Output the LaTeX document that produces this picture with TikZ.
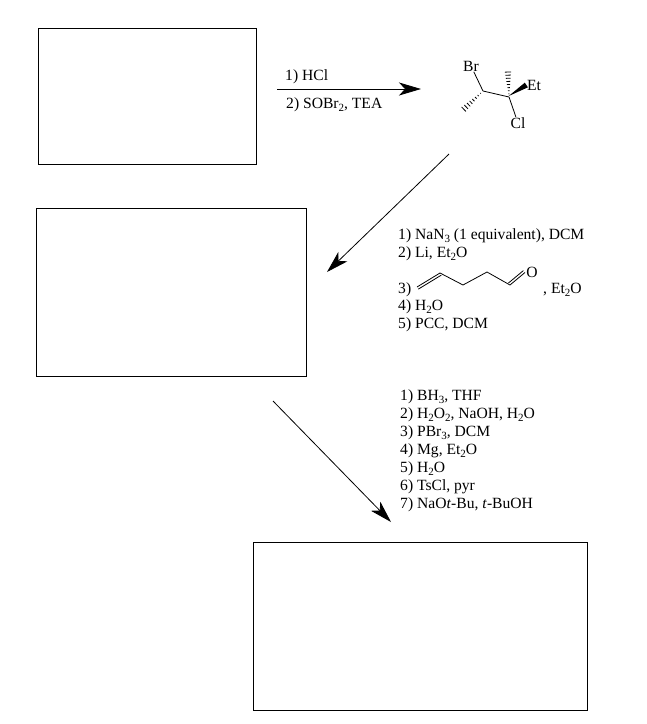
\documentclass[tikz,border=0pt]{standalone}
\usepackage{fontspec}
\setmainfont{Liberation Serif}
\usetikzlibrary{arrows.meta,calc}
\newcommand{\hashbond}[2]{%
\foreach \t in {0.12,0.24,...,1.0}
{
\draw[line width=0.8pt] ($(#1)!\t!(#2)!3.2pt*\t!90:(#2)$) -- ($(#1)!\t!(#2)!3.2pt*\t!-90:(#2)$);
}}
\newcommand{\low}[1]{\raisebox{-3.2pt}{\fontsize{11}{12}\selectfont #1}}
\begin{document}
\begin{tikzpicture}[x=1pt,y=-1pt]
\tikzstyle{answerbox}=[draw,line width=0.6pt,anchor=north west,inner sep=0pt];
\tikzstyle{rxnarrow}=[draw,line width=0.8pt,-{Stealth[length=22pt,width=13pt,inset=6pt]}];
\tikzstyle{reagent}=[anchor=base west,inner sep=0pt,font=\fontsize{15.6}{18}\selectfont];
\tikzstyle{atom}=[inner sep=0.5pt,font=\fontsize{15.6}{18}\selectfont];
\tikzstyle{bond}=[draw,line width=0.8pt];
\useasboundingbox (0,0) rectangle (647,724);
% empty boxes
\node[answerbox,minimum width=218pt,minimum height=136pt] (box1) at (38,28) {};
\node[answerbox,minimum width=270pt,minimum height=168pt] (box2) at (36,208) {};
\node[answerbox,minimum width=334pt,minimum height=168pt] (box3) at (253,542) {};
% arrows
\coordinate (a1s) at (277,89);
\coordinate (a1e) at (421,89);
\coordinate (a2s) at (449,154);
\coordinate (a2e) at (327,272);
\coordinate (a3s) at (273,401);
\coordinate (a3e) at (391,522);
\draw[rxnarrow] (a1s) -- (a1e);
\draw[rxnarrow] (a2s) -- (a2e);
\draw[rxnarrow] (a3s) -- (a3e);
% first step
\node[reagent] (hcl) at (285,80) {1) HCl};
\node[reagent] (sobr) at (286,108) {2) SOBr\low{2}, TEA};
% bromochloride
\coordinate (c1) at (483,91);
\coordinate (c2) at (509,97);
\coordinate (me1) at (463,110);
\coordinate (me2) at (508,71);
\node[atom] (br) at (471,66) {Br};
\node[atom] (et) at (534,85) {Et};
\node[atom] (cl) at (518,123) {Cl};
\draw[bond] (c1) -- (br) (c1) -- (c2) (c2) -- (cl);
\fill ($(c2)!1pt!90:(et)$) -- ($(et.west)!2.8pt!90:(c2)$) -- ($(et.west)!2.8pt!-90:(c2)$) -- cycle;
\hashbond{c1}{me1}
\hashbond{c2}{me2}
% second step
\node[reagent] (r1) at (398,239) {1) NaN\low{3} (1 equivalent), DCM};
\node[reagent] (r2) at (398,257) {2) Li, Et\low{2}O};
\node[reagent] (r3) at (398,293) {3)};
\node[reagent] (r3b) at (543,293) {, Et\low{2}O};
\node[reagent] (r4) at (398,310) {4) H\low{2}O};
\node[reagent] (r5) at (398,328) {5) PCC, DCM};
% pentenal
\coordinate (p1) at (417,287);
\coordinate (p2) at (440,273);
\coordinate (p3) at (463,285);
\coordinate (p4) at (487,272);
\coordinate (p5) at (510,285);
\node[atom] (oxy) at (532,272) {O};
\coordinate (oxyend) at (525,272.5);
\draw[bond] (p1) -- (p2) -- (p3) -- (p4) -- (p5) -- (oxyend);
\draw[bond] ($(p1)!2.5pt!-90:(p2)$) -- ($(p2)!2.5pt!90:(p1)$);
\draw[bond] ($(p5)!2.5pt!90:(oxyend)$) -- ($(oxyend)!2.5pt!-90:(p5)$);
% third step
\node[reagent] (s1) at (400,400) {1) BH\low{3}, THF};
\node[reagent] (s2) at (400,418) {2) H\low{2}O\low{2}, NaOH, H\low{2}O};
\node[reagent] (s3) at (400,436) {3) PBr\low{3}, DCM};
\node[reagent] (s4) at (400,454) {4) Mg, Et\low{2}O};
\node[reagent] (s5) at (400,472) {5) H\low{2}O};
\node[reagent] (s6) at (400,490) {6) TsCl, pyr};
\node[reagent] (s7) at (400,508) {7) NaO\textit{t}-Bu, \textit{t}-BuOH};
\end{tikzpicture}
\end{document}
